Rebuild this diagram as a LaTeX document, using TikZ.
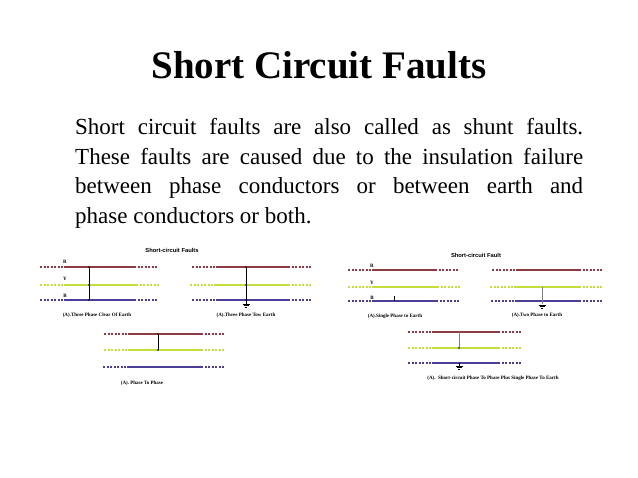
\documentclass[tikz,border=0pt]{standalone}
\usepackage{fontspec}
\setmainfont{Liberation Serif}
\newfontfamily\sanf{Liberation Sans}
\definecolor{rl}{HTML}{8E3B46}
\definecolor{yl}{HTML}{C5DD3A}
\definecolor{bl}{HTML}{4A3F98}
\newcommand{\pl}[4]{%
 \draw[#1,line width=1.1pt,dash pattern=on 2pt off 1.5pt] (#2,#4)--++(24,0);
 \draw[#1,line width=1.1pt] (#2+24,#4)--(#3-24,#4);
 \draw[#1,line width=1.1pt,dash pattern=on 2pt off 1.5pt] (#3-24,#4)--(#3,#4);}
\newcommand{\gnd}[2]{%
 \draw[line width=0.8pt] (#1-3.5,#2)--(#1+3.5,#2) (#1-2.5,#2+1.5)--(#1+2.5,#2+1.5) (#1-1.3,#2+3)--(#1+1.3,#2+3);}
\tikzset{captxt/.style={font=\fontsize{5}{6}\selectfont\bfseries},
 lab/.style={font=\fontsize{5}{6}\selectfont\bfseries},
 ttl/.style={font=\sanf\fontsize{5.8}{6}\selectfont\bfseries},
 vl/.style={line width=0.5pt}}
\begin{document}
\begin{tikzpicture}[x=1pt,y=-1pt]
\useasboundingbox[fill=white] (0,0) rectangle (638,478);
\node[font=\fontsize{39}{42}\selectfont\bfseries] (title) at (319,65) {Short Circuit Faults};
\node[anchor=north west,text width=508pt,align=justify,font=\fontsize{23}{29.8}\selectfont,inner sep=0pt] (body) at (75,118)
{\hyphenpenalty=10000 Short circuit faults are also called as shunt faults.\linebreak These faults are caused due to the insulation failure\linebreak between phase conductors or between earth and\linebreak phase conductors or both.};
% left diagram
\node[ttl] (t1) at (172,250) {Short-circuit Faults};
\pl{rl}{40}{158}{267}\pl{yl}{40}{160}{285}\pl{bl}{40}{158}{300}
\node[lab] (r1) at (65,262) {R};\node[lab] (y1) at (65,279) {Y};\node[lab] (b1) at (65,296) {B};
\draw[vl] (89,267)--(89,300);
\foreach \y in {267,285,300} \fill (89,\y) circle (0.8);
\node[captxt] (c1) at (97,315) {(A).Three Phase Clear Of Earth};
\pl{rl}{192}{312}{267}\pl{yl}{190}{312}{285}\pl{bl}{192}{312}{300}
\draw[vl] (246,267)--(246,304);
\foreach \y in {267,285,300} \fill (246,\y) circle (0.8);
\gnd{246}{304}
\node[captxt] (c2) at (246,315) {(A).Three Phase Tow Earth};
\pl{rl}{104}{225}{334}\pl{yl}{104}{225}{350}\pl{bl}{103}{225}{367}
\draw[vl] (158,334)--(158,350);
\foreach \y in {334,350} \fill (158,\y) circle (0.8);
\node[captxt] (c3) at (142,383) {(A). Phase To Phase};
% right diagram
\node[ttl] (t2) at (476,255) {Short-circuit Fault};
\pl{rl}{348}{459}{270}\pl{yl}{348}{461}{287}\pl{bl}{348}{460}{301}
\node[lab] (r2) at (372,266) {R};\node[lab] (y2) at (372,283) {Y};\node[lab] (b2) at (372,298) {B};
\draw[line width=0.3pt] (394,296)--(394,301);
\node[captxt] (c4) at (395,316) {(A).Single Phase to Earth};
\pl{rl}{492}{603}{270}\pl{yl}{490}{603}{287}\pl{bl}{491}{603}{301}
\draw[vl,gray] (542,287)--(542,304);
\gnd{542}{305}
\node[captxt] (c5) at (537,315) {(A).Two Phase to Earth};
\pl{rl}{408}{522}{332}\pl{yl}{408}{522}{348}\pl{bl}{408}{522}{363}
\draw[vl,gray] (459,332)--(459,348);
\fill (459,348) circle (0.8);
\draw[vl] (459,363)--(459,366);
\gnd{459}{366}
\node[captxt] (c6) at (493,378) {(A).\ \ Short-circuit Phase To Phase Plus Single Phase To Earth};
\end{tikzpicture}
\end{document}
